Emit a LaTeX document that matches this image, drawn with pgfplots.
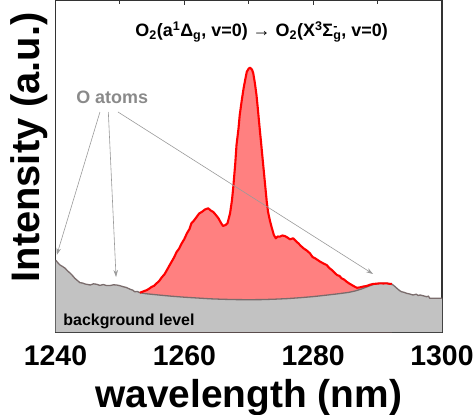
\documentclass[border=0pt]{standalone}
\usepackage{fontspec}
\setmainfont{Liberation Sans}
\usepackage{pgfplots}
\usepackage{pgfplotstable}
\pgfplotsset{compat=1.18}
\usetikzlibrary{arrows.meta}

\definecolor{specred}{HTML}{FF0000}
\definecolor{specfill}{HTML}{FF8080}
\definecolor{bgfill}{HTML}{C2C2C2}
\definecolor{bgline}{HTML}{7A6C6C}
\definecolor{atomgrey}{HTML}{8A8A8A}
\definecolor{arrowgrey}{HTML}{9A9A9A}

% singlet-oxygen emission band (a.u.)
\pgfplotstableread{
wl     I
1253.1 39.3
1253.6 40.5
1254.2 42.0
1254.6 43.6
1254.9 45.0
1255.3 46.2
1255.7 48.7
1256.1 51.0
1256.5 54.7
1256.9 57.5
1257.3 62.0
1257.6 65.5
1258.0 70.0
1258.4 74.5
1258.8 80.0
1259.2 83.5
1259.6 88.7
1260.0 93.0
1260.4 98.7
1260.8 103.0
1261.1 108.7
1261.5 111.5
1261.9 115.0
1262.3 118.5
1262.7 120.0
1263.2 122.5
1263.7 123.7
1264.1 121.5
1264.5 120.0
1264.9 117.0
1265.3 113.7
1265.7 109.0
1266.0 106.0
1266.4 107.0
1266.7 108.7
1267.1 118.7
1267.4 132.0
1267.6 145.0
1267.9 168.0
1268.1 187.0
1268.4 203.0
1268.6 217.0
1268.9 231.0
1269.2 243.7
1269.5 254.0
1269.7 260.3
1270.0 263.5
1270.2 264.3
1270.5 262.5
1270.7 258.7
1270.95 249.0
1271.2 237.0
1271.4 224.0
1271.6 210.3
1271.75 200.0
1271.9 190.3
1272.2 170.0
1272.5 150.0
1272.8 130.0
1273.0 120.0
1273.3 111.0
1273.6 103.7
1273.9 97.0
1274.2 93.7
1274.5 95.5
1274.8 95.3
1275.2 96.5
1275.6 96.0
1276.0 94.5
1276.4 92.7
1276.9 93.7
1277.3 91.0
1277.7 88.7
1278.1 86.0
1278.5 83.7
1279.0 81.5
1279.5 78.7
1279.9 75.0
1280.3 73.7
1280.7 72.0
1281.1 70.3
1281.6 68.5
1282.1 67.0
1282.5 64.0
1282.9 62.0
1283.3 59.5
1283.7 57.0
1284.1 56.0
1284.4 53.7
1284.8 52.5
1285.2 50.3
1285.6 48.5
1286.0 47.0
1286.4 45.5
1286.8 44.2
1287.3 44.7
1287.8 45.5
1288.3 46.0
1288.8 47.2
1289.3 48.0
1289.8 48.3
1290.4 48.7
1290.9 48.5
1291.4 48.7
1291.8 48.2
1292.2 48.0
}\bandtable

% background level with O-atom lines
\pgfplotstableread{
wl     I
1240.0 71.5
1240.1 71.3
1240.4 69.0
1240.7 67.0
1241.1 65.5
1241.5 63.7
1241.9 61.0
1242.3 58.7
1242.7 56.0
1243.0 53.7
1243.4 51.5
1243.8 49.3
1244.2 49.0
1244.6 48.0
1245.0 47.5
1245.4 47.0
1245.9 48.2
1246.4 47.7
1246.9 46.6
1247.4 47.5
1247.9 46.5
1248.5 46.5
1249.0 47.2
1249.5 47.0
1250.0 46.3
1250.5 45.3
1251.0 44.5
1251.6 42.7
1252.0 41.8
1252.3 40.3
1252.7 40.5
1253.1 39.3
1254.0 38.3
1256.0 37.0
1258.0 35.8
1260.0 34.8
1262.0 34.0
1264.0 33.2
1266.0 32.7
1268.0 32.4
1270.0 32.3
1272.0 32.4
1274.0 32.8
1276.0 33.4
1278.0 34.3
1280.0 35.4
1282.0 36.8
1284.0 38.3
1285.5 39.6
1286.5 41.0
1287.5 43.0
1288.5 45.5
1289.3 47.5
1290.4 48.7
1291.4 48.7
1292.2 48.0
1292.6 46.0
1293.0 43.7
1293.4 41.5
1293.7 40.3
1294.1 39.7
1294.5 38.7
1295.0 38.0
1295.5 37.0
1296.0 37.8
1296.3 36.5
1296.6 37.0
1297.1 36.2
1297.6 35.3
1297.9 35.8
1298.1 33.7
1300.0 33.7
}\bgtable

\begin{document}
\begin{tikzpicture}
\begin{axis}[
  scale only axis,
  width=386.5bp, height=331.5bp,
  xmin=1240, xmax=1300, ymin=0, ymax=331.5,
  xtick={1240,1260,1280,1300},
  minor xtick={1250,1270,1290},
  ytick=\empty,
  tick align=inside,
  xtick pos=both,
  major tick length=5bp, minor tick length=3.5bp,
  axis line style={black!80, line width=1.1bp},
  every tick/.style={black!80, line width=1bp},
  /pgf/number format/assume math mode=true,
  /pgf/number format/set thousands separator={},
  xticklabel style={font=\fontsize{28.5}{28.5}\selectfont\bfseries, yshift=-10bp},
  xlabel={wavelength (nm)},
  xlabel style={font=\fontsize{39}{39}\selectfont\bfseries,
    at={([yshift=-75bp]rel axis cs:0.5,0)}, anchor=base},
  ylabel={Intensity (a.u.)},
  ylabel style={font=\fontsize{40}{40}\selectfont\bfseries,
    at={([xshift=-16bp]rel axis cs:0,0.557)}, anchor=base},
]
\coordinate (ll) at (rel axis cs:0,0);
\coordinate (ur) at (rel axis cs:1,1);

\addplot[draw=none, fill=specfill] table[x=wl, y=I] {\bandtable} \closedcycle;
\addplot[draw=none, fill=bgfill] table[x=wl, y=I] {\bgtable} \closedcycle;
\addplot[bgline, line width=1.3bp] table[x=wl, y=I] {\bgtable};
\addplot[specred, line width=2.1bp, line join=round] table[x=wl, y=I] {\bandtable};

\draw[arrowgrey, line width=0.6bp, -{Stealth[length=7bp, width=4.5bp]}]
  (axis cs:1246.9,220) -- (axis cs:1240.2,77);
\draw[arrowgrey, line width=0.6bp, -{Stealth[length=7bp, width=4.5bp]}]
  (axis cs:1248.2,220) -- (axis cs:1249.4,55);
\draw[arrowgrey, line width=0.6bp, -{Stealth[length=7bp, width=4.5bp]}]
  (axis cs:1249.7,220) -- (axis cs:1289.3,58);

\node[font=\fontsize{18}{18}\selectfont\bfseries, text=atomgrey]
  at (axis cs:1248.8,235) {O atoms};
\node[anchor=base west, inner sep=0, font=\fontsize{16}{16}\selectfont\bfseries]
  at (axis cs:1241.2,6.5) {background level};
\node[anchor=base, inner sep=0, font=\fontsize{18}{18}\selectfont\bfseries]
  at (axis cs:1272,295)
  {O\textsubscript{2}(a\textsuperscript{1}Δ\textsubscript{g}, v=0) → O\textsubscript{2}(X\textsuperscript{3}Σ\rlap{\textsuperscript{-}}\textsubscript{g}, v=0)};
\end{axis}
\pgfresetboundingbox
\path[use as bounding box] ([shift={(-55.5bp,-83bp)}]ll) rectangle ([shift={(32bp,0.5bp)}]ur);
\end{tikzpicture}
\end{document}
